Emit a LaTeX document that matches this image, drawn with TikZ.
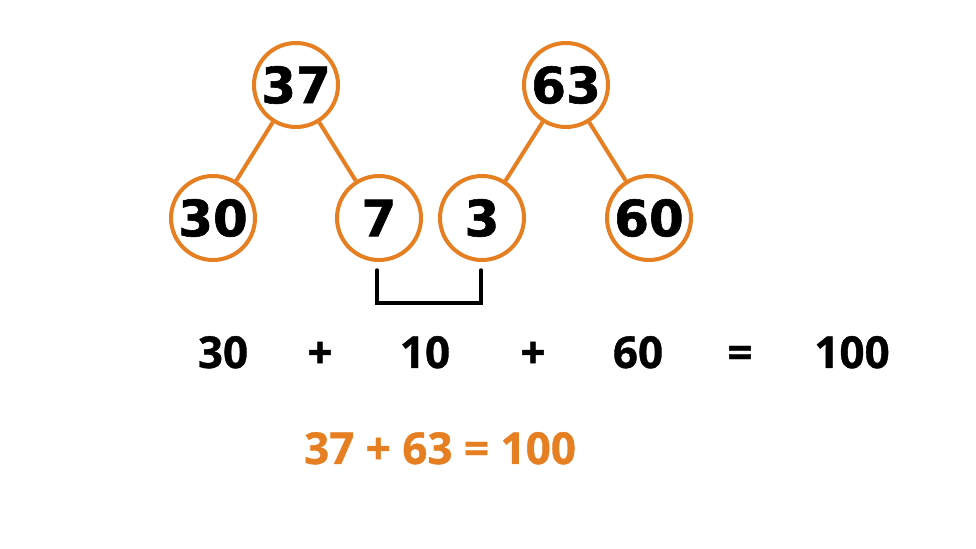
\documentclass[tikz,border=0pt]{standalone}
\usepackage{fontspec}
\newfontfamily\ballfont[FakeBold=1.2]{DejaVu Sans}
\newfontfamily\sumfont[FakeBold=0.8]{Open Sans}
\definecolor{bond}{HTML}{E67E22}
\begin{document}
\begin{tikzpicture}[x=0.5pt, y=-0.5pt,
    ball/.style={circle, draw=bond, line width=2pt, fill=white, inner sep=0pt, minimum size=42pt, font=\ballfont\bfseries\fontsize{25}{25}\selectfont},
    term/.style={inner sep=0pt, anchor=base, font=\sumfont\bfseries\fontsize{22}{22}\selectfont},
    leg/.style={draw=bond, line width=2pt}]
  \useasboundingbox (0,0) rectangle (976,549);
  \node[ball] (a) at (296, 85) {37};
  \node[ball] (b) at (566, 85) {63};
  \node[ball] (c) at (213, 218) {30};
  \node[ball] (d) at (379, 218) {7};
  \node[ball] (e) at (482, 218) {3};
  \node[ball] (f) at (649, 218) {60};
  \draw[leg] (a) -- (c);
  \draw[leg] (a) -- (d);
  \draw[leg] (b) -- (e);
  \draw[leg] (b) -- (f);
  \coordinate (g) at (377, 270);
  \coordinate (h) at (377, 303);
  \coordinate (i) at (481, 303);
  \coordinate (j) at (481, 270);
  \draw[line width=1.7pt, line cap=round] (g) -- (h) -- (i) -- (j);
  \node[term] (k) at (223, 368) {30};
  \node[term] (l) at (320, 368) {+};
  \node[term] (m) at (425, 368) {10};
  \node[term] (n) at (533, 368) {+};
  \node[term] (o) at (638, 368) {60};
  \node[term] (p) at (740, 368) {=};
  \node[term] (q) at (852, 368) {100};
  \node[term, text=bond, font=\sumfont\bfseries\fontsize{22}{22}\selectfont] (r) at (440, 464) {37 + 63 = 100};
\end{tikzpicture}
\end{document}
